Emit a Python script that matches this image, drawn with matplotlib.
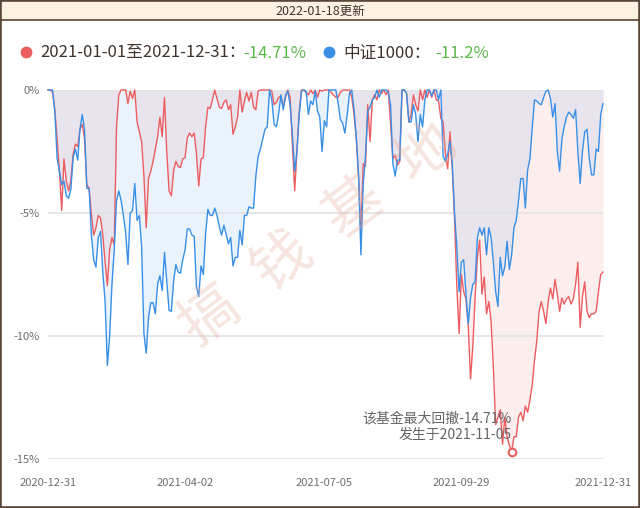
import matplotlib
matplotlib.use('Agg')
import matplotlib.pyplot as plt
from matplotlib.patches import Rectangle
from matplotlib.lines import Line2D
import numpy as np

plt.rcParams['font.family'] = ['Noto Sans CJK SC', 'DejaVu Sans']

update_label = '2022-01-18更新'
fund_label = '2021-01-01至2021-12-31：'
fund_return = '-14.71%'
index_label = '中证1000：'
index_return = '-11.2%'
tick_pos = [0, 60, 121, 181, 243]
tick_labels = ['2020-12-31', '2021-04-02', '2021-07-05', '2021-09-29', '2021-12-31']
y_ticks = [0, -5, -10, -15]
y_tick_labels = ['0%', '-5%', '-10%', '-15%']
max_dd_text = '该基金最大回撤-14.71%\n发生于2021-11-05'
watermark = '搞钱基地'

# drawdown of the fund (%), one value per trading day
fund_dd = [
    0, 0, -0.1, -0.8, -2.0, -3.3, -4.9, -2.8, -3.7, -4.1,
    -3.7, -2.6, -2.2, -2.3, -1.6, -1.4, -2.0, -3.85, -4.0, -5.05,
    -5.9, -5.6, -5.1, -5.2, -5.9, -7.0, -7.95, -6.5, -6.0, -6.3,
    -1.5, -0.2, 0, 0, 0, -0.55, -0.05, -0.35, 0, -1.3,
    -1.7, -2.1, -3.5, -5.6, -3.6, -3.3, -2.9, -2.4, -1.9, -1.1,
    -1.9, -0.3, -2.5, -4.1, -4.3, -3.3, -2.9, -3.1, -3.15, -2.8,
    -2.75, -1.95, -1.75, -1.9, -1.75, -2.6, -3.9, -2.8, -2.75, -1.5,
    -0.7, -0.75, -0.4, 0, -0.35, -0.7, -0.75, -0.5, -0.4, -0.8,
    -0.6, -1.8, -1.5, -1.1, 0, -0.9, -0.45, -0.1, -0.45, -0.1,
    -0.7, -0.8, -0.05, 0, 0, 0, 0, 0, -0.05, -0.6,
    -0.5, -0.3, -0.25, -0.7, -0.3, 0, -0.3, -2.2, -4.1, -2.5,
    -0.85, 0, 0, -0.1, -0.2, 0, -0.15, 0, -0.3, 0,
    -0.05, 0, 0, 0, -0.1,
    -0.2, -0.3, -0.3, -0.1,
    0, 0, 0, 0, -0.3, -1.0, -2.0, -3.6, -5.9, -3.0,
    -3.1, -0.6, -2.1, -0.4, -0.2, -0.4, 0, -0.15, 0, -0.2,
    0, -1.4, -2.8, -2.65, -3.05, -2.9, 0, 0, -0.15, -1.3,
    -1.0, -0.2, -0.6, -0.85, 0, -0.4, 0, -0.3, 0, -0.3,
    0, -0.4, -0.45, -1.15, -1.3, -2.6, -3.2, -1.7, -3.2, -5.2,
    -8.0, -9.9, -7.5, -8.2, -8.5, -9.6, -11.75, -10.4, -8.45, -6.8,
    -6.1, -8.3, -7.6, -9.1, -8.6, -9.4, -11.3, -13.6, -13.3, -13.0,
    -14.4, -13.3, -14.1, -14.45, -14.71, -14.1, -14.1, -13.3, -13.1, -13.45,
    -12.85, -13.1, -12.6, -12.0, -11.0, -10.2, -9.0, -8.6, -9.0, -9.5,
    -8.6, -8.05, -8.5, -7.7, -8.3, -9.0, -8.45, -8.7, -8.5, -8.4,
    -8.7, -8.5, -7.9, -7.0, -9.65, -8.4, -7.8, -9.0, -9.25, -9.1,
    -9.1, -9.0, -8.2, -7.5, -7.4,
]

# drawdown of CSI 1000 (%)
index_dd = [
    0, 0, 0, -0.9, -2.8, -3.3, -3.85, -3.7, -4.3, -4.4,
    -4.05, -2.75, -2.4, -2.85, -1.6, -1.0, -1.6, -4.0, -4.0, -5.9,
    -6.9, -7.2, -6.0, -5.75, -7.4, -8.6, -11.2, -10.0, -7.9, -6.5,
    -4.5, -4.1, -4.5, -5.1, -5.8, -7.1, -5.0, -4.9, -3.8, -5.3,
    -5.1, -6.4, -9.9, -10.7, -9.25, -8.65, -8.65, -9.1, -7.9, -7.55,
    -8.15, -6.6, -7.75, -8.95, -9.0, -7.75, -7.1, -7.4, -7.45, -6.9,
    -6.5, -5.65, -5.65, -5.9, -5.95, -8.0, -8.4, -7.15, -7.5, -5.85,
    -4.85, -5.1, -5.1, -4.8, -5.1, -5.55, -5.9, -5.5, -5.85, -6.25,
    -6.0, -7.15, -6.8, -6.8, -5.7, -6.3, -5.1, -5.1, -4.75, -4.8,
    -4.8, -3.5, -2.7, -2.4, -2.0, -1.6, -1.5, 0, -0.4, -1.4,
    -1.5, -0.95, -0.2, -0.8, -0.2, -0.05, -0.6, -1.8, -3.3, -2.5,
    -1.0, -0.05, 0, -0.05, -1.0, -0.45, -0.6, -0.05, -0.85, -1.1,
    -2.5, -1.25, -1.5, 0, 0,
    0, 0, -0.5, -1.2,
    -1.35, -1.75, -1.0, -0.15, 0, -0.8, -1.95, -3.5, -6.7, -3.85,
    -2.7, -0.85, -0.7, -0.4, -0.3, 0, -0.3, 0, 0, 0,
    -0.1, -0.6, -3.0, -3.5, -2.85, -2.85, 0, 0, -0.15, -1.3,
    -1.3, -0.6, -1.0, -2.1, -1.0, -1.5, -0.4, 0, 0, -0.25,
    0, 0, -0.4, 0, -2.7, -2.9, -2.6, -2.1, -3.0, -5.0,
    -6.4, -8.2, -7.0, -6.9, -8.3, -9.5, -8.45, -7.9, -7.8, -6.0,
    -5.6, -5.9, -5.6, -6.7, -5.6, -6.0, -7.0, -8.2, -8.8, -6.8,
    -7.55, -7.2, -6.15, -7.3, -6.7, -5.6, -5.3, -4.5, -3.6, -3.6,
    -4.8, -3.25, -2.8, -1.55, -0.4, -0.45, -0.55, -0.6, -0.3, -0.05,
    0, -0.35, -1.1, -0.55, -2.5, -3.3, -2.0, -1.5, -1.1, -0.9,
    -1.0, -1.15, -0.8, -2.5, -3.8, -2.5, -1.7, -1.6, -2.8, -3.45,
    -3.45, -2.4, -2.5, -1.0, -0.55,
]

red = '#ec5d60'
blue = '#3890e6'
green = '#5bb84a'
dark = '#3e322c'
grey = '#6e6e6e'
frame = '#5a4638'

W, H = 640, 508
fig = plt.figure(figsize=(6.4, 5.08), dpi=100)
fig.patch.set_facecolor('white')

def fx(px):
    return px / W

def fy(py):
    return 1 - py / H

# header band + frame
fig.add_artist(Rectangle((0, fy(20)), 1, 20 / H, transform=fig.transFigure,
                         facecolor='#fdf2e1', edgecolor='none', zorder=0))
fig.add_artist(Line2D([0, 1], [fy(20), fy(20)], transform=fig.transFigure, color=frame, lw=1.2))
fig.add_artist(Rectangle((0, 0), 1, 1, transform=fig.transFigure, facecolor='none',
                         edgecolor=frame, lw=2.6, zorder=10))
fig.text(0.5, fy(11), update_label, ha='center', va='center', fontsize=9, color=dark)

# legend
fig.add_artist(Line2D([fx(26)], [fy(52)], transform=fig.transFigure, marker='o', ms=7.5,
                      color=red, mec=red, ls='none'))
fig.text(fx(40), fy(53), fund_label, ha='left', va='center', fontsize=12, color=dark)
fig.text(fx(243), fy(53), fund_return, ha='left', va='center', fontsize=12, color=green)
fig.add_artist(Line2D([fx(329)], [fy(52)], transform=fig.transFigure, marker='o', ms=7.5,
                      color=blue, mec=blue, ls='none'))
fig.text(fx(343), fy(53), index_label, ha='left', va='center', fontsize=12, color=dark)
fig.text(fx(435), fy(53), index_return, ha='left', va='center', fontsize=12, color=green)

ax = fig.add_axes([fx(48), fy(459), fx(603) - fx(48), fy(90) - fy(459)])
x = np.arange(len(fund_dd))
fund = np.array(fund_dd)
idx = np.array(index_dd)

ax.fill_between(x, fund, 0, color=red, alpha=0.1, lw=0)
ax.fill_between(x, idx, 0, color=blue, alpha=0.1, lw=0)
ax.plot(x, fund, color=red, lw=1.0, clip_on=False, zorder=3)
ax.plot(x, idx, color=blue, lw=1.0, clip_on=False, zorder=4)

for yv in y_ticks:
    ax.axhline(yv, color='#e2e2e2', lw=1.2, zorder=1)

ax.set_xlim(0, len(fund_dd) - 1)
ax.set_ylim(-15, 0)
ax.set_yticks(y_ticks)
ax.set_yticklabels(y_tick_labels)
ax.set_xticks(tick_pos)
ax.set_xticklabels(tick_labels)
ax.tick_params(axis='y', length=0, pad=6, labelsize=8, labelcolor=grey)
ax.tick_params(axis='x', length=0, pad=14, labelsize=8, labelcolor=grey)
for s in ax.spines.values():
    s.set_visible(False)
ax.set_facecolor('none')

# max drawdown marker and note
k = int(np.argmin(fund))
ax.plot([k], [fund[k]], marker='o', ms=5.5, mfc='white', mec=red, mew=1.5,
        clip_on=False, zorder=6)
ax.annotate(max_dd_text, xy=(k, fund[k]), xytext=(0, 10), textcoords='offset pixels',
            ha='right', va='bottom', fontsize=10, color='#666666', linespacing=1.2,
            multialignment='right', zorder=7)

# watermark
start = np.array([210, 316])
step = np.array([72, -54])
for n, ch in enumerate(watermark):
    px, py = start + n * step
    fig.text(fx(px), fy(py), ch, ha='center', va='center', fontsize=42, rotation=37,
             color='#e6ad9f', alpha=0.33, zorder=5)

fig.savefig('out.png', dpi=100)
